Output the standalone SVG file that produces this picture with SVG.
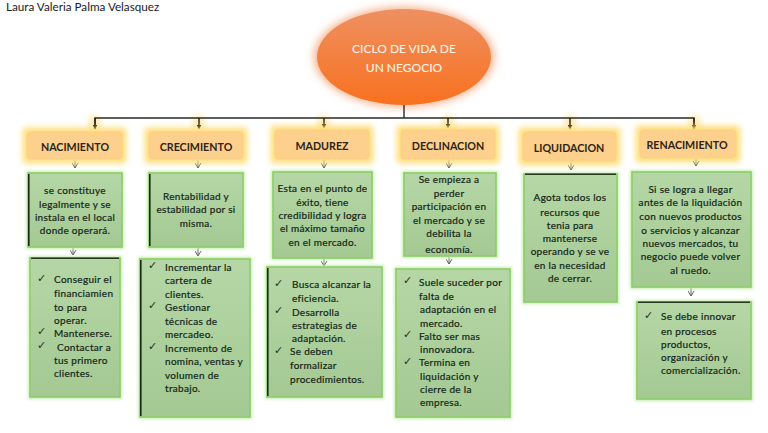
<svg xmlns="http://www.w3.org/2000/svg" width="768" height="433" viewBox="0 0 768 433">
<style>
text{font-family:Lato,"Open Sans","Liberation Sans",sans-serif;fill:#16261a}
.t{font-size:10px;font-weight:400;letter-spacing:.3px;fill:#16281a;stroke:#16281a;stroke-width:.22px}
.c{text-anchor:middle}
.h{font-size:10.7px;font-weight:700;text-anchor:middle;fill:#2b2417}
.k{font-family:"DejaVu Sans",sans-serif;font-size:11px;fill:#1f3320}
.hb{fill:#fdd08e;stroke:#fbd27c;stroke-width:1}
.hg{fill:#ffdb70;filter:url(#glow)}
.gb{fill:url(#green);stroke:#8ccc6c;stroke-width:1.6}
.gg{fill:#c5eeae;filter:url(#soft)}
.edge{fill:#1b2a14}
.main{fill:none;stroke:#2a2a2a;stroke-width:1.4}
.big{stroke:#1a1a10;stroke-width:1.4;fill:none;marker-end:url(#ah)}
.small{stroke:#555;stroke-width:.9;fill:none;marker-end:url(#as)}
</style>
<defs>
<linearGradient id="green" x1="0" y1="0" x2="0" y2="1"><stop offset="0" stop-color="#b5d7a6"/><stop offset="1" stop-color="#a4c993"/></linearGradient>
<linearGradient id="orange" x1="0" y1="0" x2="0" y2="1"><stop offset="0" stop-color="#ee9062"/><stop offset="1" stop-color="#f8711e"/></linearGradient>
<filter id="glow" x="-30%" y="-60%" width="160%" height="220%"><feGaussianBlur stdDeviation="3"/></filter>
<filter id="glow2" x="-20%" y="-20%" width="140%" height="140%"><feGaussianBlur stdDeviation="4"/></filter>
<filter id="soft" x="-10%" y="-10%" width="120%" height="120%"><feGaussianBlur stdDeviation="1.500"/></filter>
<marker id="ah" markerWidth="5" markerHeight="5" refX="2.5" refY="2.5" orient="auto" markerUnits="userSpaceOnUse"><path d="M0 0L5 2.5L0 5Z" fill="#1a1a10"/></marker>
<marker id="as" markerWidth="6" markerHeight="7" refX="5" refY="3.5" orient="auto" markerUnits="userSpaceOnUse"><path d="M0 .5L5 3.5L0 6.5" fill="none" stroke="#555" stroke-width=".9"/></marker>
</defs>
<rect width="768" height="433" fill="#fff"/>
<g id="autor"><text x="6" y="11" font-size="11.7" font-weight="400" style="fill:#222">Laura Valeria Palma Velasquez</text></g>
<g id="raiz">
<ellipse cx="404" cy="57" rx="90" ry="50" fill="#f6b08a" filter="url(#glow2)"/>
<ellipse cx="404" cy="57" rx="87" ry="48" fill="url(#orange)"/>
<text x="404" y="53" class="c" font-size="12" font-weight="500" style="fill:#fff2e8">CICLO DE VIDA DE</text>
<text x="404" y="72" class="c" font-size="12" font-weight="500" style="fill:#fff2e8">UN NEGOCIO</text>
</g>
<g id="conectores">
<rect x="89" y="116" width="11" height="14" fill="#ffe08a" filter="url(#glow)" opacity=".7"/>
<rect x="193" y="116" width="11" height="14" fill="#ffe08a" filter="url(#glow)" opacity=".7"/>
<rect x="318" y="116" width="11" height="14" fill="#ffe08a" filter="url(#glow)" opacity=".7"/>
<rect x="443" y="116" width="11" height="14" fill="#ffe08a" filter="url(#glow)" opacity=".7"/>
<rect x="565" y="116" width="11" height="14" fill="#ffe08a" filter="url(#glow)" opacity=".7"/>
<rect x="689" y="116" width="11" height="14" fill="#ffe08a" filter="url(#glow)" opacity=".7"/>
<path class="main" d="M404 105V118M95 129V118H694V129"/>
<path class="big" d="M95 118V127"/><path class="big" d="M199 118V127"/><path class="big" d="M324 118V126"/><path class="big" d="M448 118V126"/><path class="big" d="M570 118V127"/><path class="big" d="M694 118V127"/>
<path class="small" d="M75 160V168"/><path class="small" d="M198 160V168"/><path class="small" d="M324 160V168"/><path class="small" d="M449 160V168"/><path class="small" d="M571 162V170"/><path class="small" d="M696 159V166"/>
<path class="small" d="M73 247V255"/><path class="small" d="M198 247V256"/><path class="small" d="M324 258V266"/><path class="small" d="M449 257V264"/><path class="small" d="M691 288V296"/>
</g>
<g id="nacimiento"><rect class="hg" x="23" y="128" width="103" height="35"/><rect class="hb" x="27" y="132" width="95" height="27" rx="4"/><text class="h" x="75" y="151">NACIMIENTO</text></g>
<g id="crecimiento"><rect class="hg" x="145" y="128" width="102" height="35"/><rect class="hb" x="149" y="132" width="94" height="27" rx="4"/><text class="h" x="196" y="151">CRECIMIENTO</text></g>
<g id="madurez"><rect class="hg" x="271" y="126" width="102" height="37"/><rect class="hb" x="275" y="130" width="94" height="29" rx="4"/><text class="h" x="322" y="150">MADUREZ</text></g>
<g id="declinacion"><rect class="hg" x="397" y="126" width="102" height="37"/><rect class="hb" x="401" y="130" width="94" height="29" rx="4"/><text class="h" x="448" y="150">DECLINACION</text></g>
<g id="liquidacion"><rect class="hg" x="519" y="128" width="101" height="37"/><rect class="hb" x="523" y="132" width="93" height="29" rx="4"/><text class="h" x="569" y="152">LIQUIDACION</text></g>
<g id="renacimiento"><rect class="hg" x="636" y="126" width="104" height="36"/><rect class="hb" x="640" y="130" width="96" height="28" rx="4"/><text class="h" x="687" y="149">RENACIMIENTO</text></g>
<g id="nacimiento-desc"><rect class="gg" x="26" y="171" width="98" height="78"/><rect class="gb" x="28" y="173" width="94" height="74"/><rect class="edge" x="28" y="174" width="1.6" height="72"/>
<text class="t c"><tspan x="75" y="194">se constituye</tspan><tspan x="75" y="208">legalmente y se</tspan><tspan x="75" y="221">instala en el local</tspan><tspan x="75" y="234">donde operará.</tspan></text></g>
<g id="nacimiento-lista"><rect class="gg" x="28" y="256" width="94" height="143"/><rect class="gb" x="30" y="258" width="90" height="139"/><rect class="edge" x="31" y="257.5" width="88" height="1.4"/>
<text class="k" x="37" y="282">✓</text><text class="k" x="37" y="335">✓</text><text class="k" x="37" y="349">✓</text>
<text class="t"><tspan x="54" y="283">Conseguir el</tspan><tspan x="54" y="297">financiamien</tspan><tspan x="54" y="311">to para</tspan><tspan x="54" y="324">operar.</tspan><tspan x="54" y="337">Mantenerse.</tspan><tspan x="57" y="351">Contactar a</tspan><tspan x="54" y="364">tus primero</tspan><tspan x="54" y="377">clientes.</tspan></text></g>
<g id="crecimiento-desc"><rect class="gg" x="147" y="171" width="98" height="78"/><rect class="gb" x="149" y="173" width="94" height="74"/><rect class="edge" x="149" y="174" width="1.6" height="72"/>
<text class="t c"><tspan x="196" y="200">Rentabilidad y</tspan><tspan x="196" y="213">estabilidad por si</tspan><tspan x="196" y="227">misma.</tspan></text></g>
<g id="crecimiento-lista"><rect class="gg" x="138" y="257" width="114" height="162"/><rect class="gb" x="140" y="259" width="110" height="158"/><rect class="edge" x="140" y="260" width="1.6" height="156"/>
<text class="k" x="148" y="269">✓</text><text class="k" x="148" y="309">✓</text><text class="k" x="148" y="350">✓</text>
<text class="t"><tspan x="165" y="271">Incrementar la</tspan><tspan x="165" y="284">cartera de</tspan><tspan x="165" y="298">clientes.</tspan><tspan x="165" y="311">Gestionar</tspan><tspan x="165" y="325">técnicas de</tspan><tspan x="165" y="338">mercadeo.</tspan><tspan x="165" y="352">Incremento de</tspan><tspan x="165" y="365">nomina, ventas y</tspan><tspan x="165" y="379">volumen de</tspan><tspan x="165" y="392">trabajo.</tspan></text></g>
<g id="madurez-desc"><rect class="gg" x="271" y="170" width="103" height="90"/><rect class="gb" x="273" y="172" width="99" height="86"/>
<text class="t c"><tspan x="322.500" y="192">Esta en el punto de</tspan><tspan x="322.500" y="206">éxito, tiene</tspan><tspan x="322.500" y="219">credibilidad y logra</tspan><tspan x="322.500" y="232">el máximo tamaño</tspan><tspan x="322.500" y="246">en el mercado.</tspan></text></g>
<g id="madurez-lista"><rect class="gg" x="265" y="265" width="119" height="134"/><rect class="gb" x="267" y="267" width="115" height="130"/><rect class="edge" x="267" y="268" width="1.6" height="128"/>
<text class="k" x="274" y="287">✓</text><text class="k" x="274" y="314">✓</text><text class="k" x="274" y="354">✓</text>
<text class="t"><tspan x="292" y="288">Busca alcanzar la</tspan><tspan x="292" y="302">eficiencia.</tspan><tspan x="292" y="316">Desarrolla</tspan><tspan x="292" y="329">estrategias de</tspan><tspan x="292" y="342">adaptación.</tspan><tspan x="290" y="355">Se deben</tspan><tspan x="290" y="369">formalizar</tspan><tspan x="290" y="383">procedimientos.</tspan></text></g>
<g id="declinacion-desc"><rect class="gg" x="402" y="171" width="96" height="87"/><rect class="gb" x="404" y="173" width="92" height="83"/>
<text class="t c"><tspan x="449" y="183">Se empieza a</tspan><tspan x="449" y="197">perder</tspan><tspan x="449" y="210">participación en</tspan><tspan x="449" y="224">el mercado y se</tspan><tspan x="449" y="237">debilita la</tspan><tspan x="449" y="253">economía.</tspan></text></g>
<g id="declinacion-lista"><rect class="gg" x="394" y="267" width="118" height="152"/><rect class="gb" x="396" y="269" width="114" height="148"/>
<text class="k" x="403" y="284">✓</text><text class="k" x="403" y="338">✓</text><text class="k" x="403" y="365">✓</text>
<text class="t"><tspan x="419" y="286">Suele suceder por</tspan><tspan x="419" y="300">falta de</tspan><tspan x="420" y="313">adaptación en el</tspan><tspan x="420" y="327">mercado.</tspan><tspan x="419" y="340">Falto ser mas</tspan><tspan x="420" y="353">innovadora.</tspan><tspan x="419" y="366">Termina en</tspan><tspan x="420" y="380">liquidación y</tspan><tspan x="420" y="393">cierre de la</tspan><tspan x="420" y="406">empresa.</tspan></text></g>
<g id="liquidacion-desc"><rect class="gg" x="522" y="172" width="97" height="132"/><rect class="gb" x="524" y="174" width="93" height="128"/><rect class="edge" x="525" y="173.500" width="91" height="1.400"/>
<text class="t c"><tspan x="570" y="201">Agota todos los</tspan><tspan x="570" y="216">recursos que</tspan><tspan x="570" y="229">tenia para</tspan><tspan x="570" y="242">mantenerse</tspan><tspan x="570" y="255">operando y se ve</tspan><tspan x="570" y="269">en la necesidad</tspan><tspan x="570" y="282">de cerrar.</tspan></text></g>
<g id="renacimiento-desc"><rect class="gg" x="630" y="170" width="123" height="119"/><rect class="gb" x="632" y="172" width="119" height="115"/>
<text class="t c"><tspan x="690.500" y="193">Si se logra a llegar</tspan><tspan x="690.500" y="206">antes de la liquidación</tspan><tspan x="690.500" y="220">con nuevos productos</tspan><tspan x="690.500" y="234">o servicios y alcanzar</tspan><tspan x="690.500" y="247">nuevos mercados, tu</tspan><tspan x="690.500" y="260">negocio puede volver</tspan><tspan x="690.500" y="274">al ruedo.</tspan></text></g>
<g id="renacimiento-lista"><rect class="gg" x="635" y="300" width="118" height="101"/><rect class="gb" x="637" y="302" width="114" height="97"/><rect class="edge" x="638" y="301.500" width="112" height="1.400"/>
<text class="k" x="644" y="319">✓</text>
<text class="t"><tspan x="661" y="320">Se debe innovar</tspan><tspan x="661" y="335">en procesos</tspan><tspan x="661" y="348">productos,</tspan><tspan x="661" y="361">organización y</tspan><tspan x="661" y="374">comercialización.</tspan></text></g>
</svg>
